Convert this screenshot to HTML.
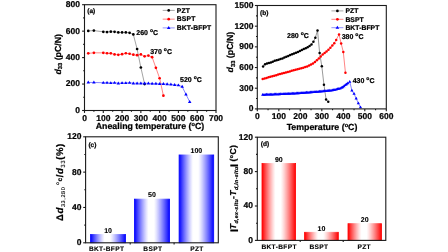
<!DOCTYPE html><html><head><meta charset="utf-8"><style>html,body{margin:0;padding:0;background:#fff;width:448px;height:252px;overflow:hidden}svg{display:block;filter:blur(0.25px)}text{text-rendering:geometricPrecision;stroke:#000;stroke-width:0.22px}</style></head><body>
<svg width="448" height="252" viewBox="0 0 448 252" font-family='"Liberation Sans", Arial, sans-serif'>
<defs><linearGradient id="gb" x1="0" x2="1" y1="0" y2="0"><stop offset="0.000" stop-color="#0000ff"/><stop offset="0.025" stop-color="#1313ff"/><stop offset="0.050" stop-color="#2525ff"/><stop offset="0.075" stop-color="#3838ff"/><stop offset="0.100" stop-color="#4a4aff"/><stop offset="0.125" stop-color="#5c5cff"/><stop offset="0.150" stop-color="#6d6dff"/><stop offset="0.175" stop-color="#7e7eff"/><stop offset="0.200" stop-color="#8f8fff"/><stop offset="0.225" stop-color="#9f9fff"/><stop offset="0.250" stop-color="#afafff"/><stop offset="0.275" stop-color="#bebeff"/><stop offset="0.300" stop-color="#cdcdff"/><stop offset="0.325" stop-color="#dbdbff"/><stop offset="0.350" stop-color="#e8e8ff"/><stop offset="0.375" stop-color="#f4f4ff"/><stop offset="0.400" stop-color="#fefeff"/><stop offset="0.425" stop-color="#ffffff"/><stop offset="0.450" stop-color="#ffffff"/><stop offset="0.475" stop-color="#ffffff"/><stop offset="0.500" stop-color="#ffffff"/><stop offset="0.525" stop-color="#ffffff"/><stop offset="0.550" stop-color="#ffffff"/><stop offset="0.575" stop-color="#f8f8ff"/><stop offset="0.600" stop-color="#eeeeff"/><stop offset="0.625" stop-color="#e3e3ff"/><stop offset="0.650" stop-color="#d7d7ff"/><stop offset="0.675" stop-color="#cacaff"/><stop offset="0.700" stop-color="#bcbcff"/><stop offset="0.725" stop-color="#aeaeff"/><stop offset="0.750" stop-color="#a0a0ff"/><stop offset="0.775" stop-color="#9191ff"/><stop offset="0.800" stop-color="#8282ff"/><stop offset="0.825" stop-color="#7373ff"/><stop offset="0.850" stop-color="#6363ff"/><stop offset="0.875" stop-color="#5353ff"/><stop offset="0.900" stop-color="#4343ff"/><stop offset="0.925" stop-color="#3333ff"/><stop offset="0.950" stop-color="#2222ff"/><stop offset="0.975" stop-color="#1111ff"/><stop offset="1.000" stop-color="#0000ff"/></linearGradient><linearGradient id="gr" x1="0" x2="1" y1="0" y2="0"><stop offset="0.000" stop-color="#ff0000"/><stop offset="0.025" stop-color="#ff1313"/><stop offset="0.050" stop-color="#ff2525"/><stop offset="0.075" stop-color="#ff3838"/><stop offset="0.100" stop-color="#ff4a4a"/><stop offset="0.125" stop-color="#ff5c5c"/><stop offset="0.150" stop-color="#ff6d6d"/><stop offset="0.175" stop-color="#ff7e7e"/><stop offset="0.200" stop-color="#ff8f8f"/><stop offset="0.225" stop-color="#ff9f9f"/><stop offset="0.250" stop-color="#ffafaf"/><stop offset="0.275" stop-color="#ffbebe"/><stop offset="0.300" stop-color="#ffcdcd"/><stop offset="0.325" stop-color="#ffdbdb"/><stop offset="0.350" stop-color="#ffe8e8"/><stop offset="0.375" stop-color="#fff4f4"/><stop offset="0.400" stop-color="#fffefe"/><stop offset="0.425" stop-color="#ffffff"/><stop offset="0.450" stop-color="#ffffff"/><stop offset="0.475" stop-color="#ffffff"/><stop offset="0.500" stop-color="#ffffff"/><stop offset="0.525" stop-color="#ffffff"/><stop offset="0.550" stop-color="#ffffff"/><stop offset="0.575" stop-color="#fff8f8"/><stop offset="0.600" stop-color="#ffeeee"/><stop offset="0.625" stop-color="#ffe3e3"/><stop offset="0.650" stop-color="#ffd7d7"/><stop offset="0.675" stop-color="#ffcaca"/><stop offset="0.700" stop-color="#ffbcbc"/><stop offset="0.725" stop-color="#ffaeae"/><stop offset="0.750" stop-color="#ffa0a0"/><stop offset="0.775" stop-color="#ff9191"/><stop offset="0.800" stop-color="#ff8282"/><stop offset="0.825" stop-color="#ff7373"/><stop offset="0.850" stop-color="#ff6363"/><stop offset="0.875" stop-color="#ff5353"/><stop offset="0.900" stop-color="#ff4343"/><stop offset="0.925" stop-color="#ff3333"/><stop offset="0.950" stop-color="#ff2222"/><stop offset="0.975" stop-color="#ff1111"/><stop offset="1.000" stop-color="#ff0000"/></linearGradient></defs>
<rect width="448" height="252" fill="#fff"/>
<path d="M88.26,30.89 L93.89,30.62 L103.29,31.81 L107.04,32.08 L110.8,31.68 L114.56,31.81 L118.31,32.47 L122.07,32.47 L125.83,32.47 L129.59,32.87 L133.34,34.46 L137.1,49 L140.86,67.52 L144.61,84.05" fill="none" stroke="#666" stroke-width="0.6"/>
<circle cx="88.26" cy="30.89" r="1.35" fill="#000"/>
<circle cx="93.89" cy="30.62" r="1.35" fill="#000"/>
<circle cx="103.29" cy="31.81" r="1.35" fill="#000"/>
<circle cx="107.04" cy="32.08" r="1.35" fill="#000"/>
<circle cx="110.8" cy="31.68" r="1.35" fill="#000"/>
<circle cx="114.56" cy="31.81" r="1.35" fill="#000"/>
<circle cx="118.31" cy="32.47" r="1.35" fill="#000"/>
<circle cx="122.07" cy="32.47" r="1.35" fill="#000"/>
<circle cx="125.83" cy="32.47" r="1.35" fill="#000"/>
<circle cx="129.59" cy="32.87" r="1.35" fill="#000"/>
<circle cx="133.34" cy="34.46" r="1.35" fill="#000"/>
<circle cx="137.1" cy="49" r="1.35" fill="#000"/>
<circle cx="140.86" cy="67.52" r="1.35" fill="#000"/>
<circle cx="144.61" cy="84.05" r="1.35" fill="#000"/>
<path d="M88.26,53.37 L93.89,52.84 L103.29,52.84 L107.04,53.24 L110.8,53.37 L114.56,54.43 L118.31,54.82 L122.07,54.16 L125.83,53.24 L129.59,53.76 L133.34,54.69 L137.1,55.22 L140.86,54.43 L144.61,56.28 L148.37,55.62 L152.13,57.2 L155.89,67.78 L159.64,78.23 L163.4,95.69" fill="none" stroke="#f33" stroke-width="0.6"/>
<circle cx="88.26" cy="53.37" r="1.35" fill="#f00"/>
<circle cx="93.89" cy="52.84" r="1.35" fill="#f00"/>
<circle cx="103.29" cy="52.84" r="1.35" fill="#f00"/>
<circle cx="107.04" cy="53.24" r="1.35" fill="#f00"/>
<circle cx="110.8" cy="53.37" r="1.35" fill="#f00"/>
<circle cx="114.56" cy="54.43" r="1.35" fill="#f00"/>
<circle cx="118.31" cy="54.82" r="1.35" fill="#f00"/>
<circle cx="122.07" cy="54.16" r="1.35" fill="#f00"/>
<circle cx="125.83" cy="53.24" r="1.35" fill="#f00"/>
<circle cx="129.59" cy="53.76" r="1.35" fill="#f00"/>
<circle cx="133.34" cy="54.69" r="1.35" fill="#f00"/>
<circle cx="137.1" cy="55.22" r="1.35" fill="#f00"/>
<circle cx="140.86" cy="54.43" r="1.35" fill="#f00"/>
<circle cx="144.61" cy="56.28" r="1.35" fill="#f00"/>
<circle cx="148.37" cy="55.62" r="1.35" fill="#f00"/>
<circle cx="152.13" cy="57.2" r="1.35" fill="#f00"/>
<circle cx="155.89" cy="67.78" r="1.35" fill="#f00"/>
<circle cx="159.64" cy="78.23" r="1.35" fill="#f00"/>
<circle cx="163.4" cy="95.69" r="1.35" fill="#f00"/>
<path d="M88.26,82.46 L93.89,82.46 L103.29,82.73 L107.04,82.73 L110.8,82.99 L114.56,82.73 L118.31,83.26 L122.07,82.99 L125.83,82.99 L129.59,82.73 L133.34,83.26 L137.1,83.26 L140.86,83.26 L144.61,83.26 L148.37,83.39 L152.13,83.52 L155.89,83.65 L159.64,83.79 L163.4,83.92 L167.16,84.18 L170.91,84.45 L174.67,84.84 L178.43,85.24 L182.19,86.69 L185.94,94.37 L189.7,101.77" fill="none" stroke="#33f" stroke-width="0.6"/>
<path d="M88.26,80.62 L90.01,83.59 L86.5,83.59Z" fill="#00f"/>
<path d="M93.89,80.62 L95.65,83.59 L92.14,83.59Z" fill="#00f"/>
<path d="M103.29,80.89 L105.04,83.86 L101.53,83.86Z" fill="#00f"/>
<path d="M107.04,80.89 L108.8,83.86 L105.29,83.86Z" fill="#00f"/>
<path d="M110.8,81.15 L112.55,84.12 L109.05,84.12Z" fill="#00f"/>
<path d="M114.56,80.89 L116.31,83.86 L112.8,83.86Z" fill="#00f"/>
<path d="M118.31,81.42 L120.07,84.39 L116.56,84.39Z" fill="#00f"/>
<path d="M122.07,81.15 L123.83,84.12 L120.32,84.12Z" fill="#00f"/>
<path d="M125.83,81.15 L127.58,84.12 L124.07,84.12Z" fill="#00f"/>
<path d="M129.59,80.89 L131.34,83.86 L127.83,83.86Z" fill="#00f"/>
<path d="M133.34,81.42 L135.1,84.39 L131.59,84.39Z" fill="#00f"/>
<path d="M137.1,81.42 L138.85,84.39 L135.34,84.39Z" fill="#00f"/>
<path d="M140.86,81.42 L142.61,84.39 L139.1,84.39Z" fill="#00f"/>
<path d="M144.61,81.42 L146.37,84.39 L142.86,84.39Z" fill="#00f"/>
<path d="M148.37,81.55 L150.13,84.52 L146.62,84.52Z" fill="#00f"/>
<path d="M152.13,81.68 L153.88,84.65 L150.37,84.65Z" fill="#00f"/>
<path d="M155.89,81.81 L157.64,84.78 L154.13,84.78Z" fill="#00f"/>
<path d="M159.64,81.94 L161.4,84.91 L157.89,84.91Z" fill="#00f"/>
<path d="M163.4,82.08 L165.16,85.05 L161.65,85.05Z" fill="#00f"/>
<path d="M167.16,82.34 L168.91,85.31 L165.4,85.31Z" fill="#00f"/>
<path d="M170.91,82.61 L172.67,85.58 L169.16,85.58Z" fill="#00f"/>
<path d="M174.67,83 L176.43,85.97 L172.92,85.97Z" fill="#00f"/>
<path d="M178.43,83.4 L180.18,86.37 L176.67,86.37Z" fill="#00f"/>
<path d="M182.19,84.85 L183.94,87.82 L180.43,87.82Z" fill="#00f"/>
<path d="M185.94,92.52 L187.7,95.49 L184.19,95.49Z" fill="#00f"/>
<path d="M189.7,99.93 L191.45,102.9 L187.94,102.9Z" fill="#00f"/>
<rect x="84.5" y="4.7" width="131.5" height="105.8" fill="none" stroke="#1a1a1a" stroke-width="1.1"/>
<line x1="82.1" y1="110.5" x2="84.5" y2="110.5" stroke="#1a1a1a" stroke-width="1.1"/>
<text x="80" y="112.9" font-size="8.5" text-anchor="end" font-weight="bold" >0</text>
<line x1="83.2" y1="97.28" x2="84.5" y2="97.28" stroke="#1a1a1a" stroke-width="1.1"/>
<line x1="82.1" y1="84.05" x2="84.5" y2="84.05" stroke="#1a1a1a" stroke-width="1.1"/>
<text x="80" y="86.45" font-size="8.5" text-anchor="end" font-weight="bold" >200</text>
<line x1="83.2" y1="70.82" x2="84.5" y2="70.82" stroke="#1a1a1a" stroke-width="1.1"/>
<line x1="82.1" y1="57.6" x2="84.5" y2="57.6" stroke="#1a1a1a" stroke-width="1.1"/>
<text x="80" y="60" font-size="8.5" text-anchor="end" font-weight="bold" >400</text>
<line x1="83.2" y1="44.38" x2="84.5" y2="44.38" stroke="#1a1a1a" stroke-width="1.1"/>
<line x1="82.1" y1="31.15" x2="84.5" y2="31.15" stroke="#1a1a1a" stroke-width="1.1"/>
<text x="80" y="33.55" font-size="8.5" text-anchor="end" font-weight="bold" >600</text>
<line x1="83.2" y1="17.92" x2="84.5" y2="17.92" stroke="#1a1a1a" stroke-width="1.1"/>
<line x1="82.1" y1="4.7" x2="84.5" y2="4.7" stroke="#1a1a1a" stroke-width="1.1"/>
<text x="80" y="7.1" font-size="8.5" text-anchor="end" font-weight="bold" >800</text>
<line x1="84.5" y1="110.5" x2="84.5" y2="112.9" stroke="#1a1a1a" stroke-width="1.1"/>
<text x="84.5" y="120.6" font-size="8.5" text-anchor="middle" font-weight="bold" >0</text>
<line x1="93.89" y1="110.5" x2="93.89" y2="111.8" stroke="#1a1a1a" stroke-width="1.1"/>
<line x1="103.29" y1="110.5" x2="103.29" y2="112.9" stroke="#1a1a1a" stroke-width="1.1"/>
<text x="103.29" y="120.6" font-size="8.5" text-anchor="middle" font-weight="bold" >100</text>
<line x1="112.68" y1="110.5" x2="112.68" y2="111.8" stroke="#1a1a1a" stroke-width="1.1"/>
<line x1="122.07" y1="110.5" x2="122.07" y2="112.9" stroke="#1a1a1a" stroke-width="1.1"/>
<text x="122.07" y="120.6" font-size="8.5" text-anchor="middle" font-weight="bold" >200</text>
<line x1="131.46" y1="110.5" x2="131.46" y2="111.8" stroke="#1a1a1a" stroke-width="1.1"/>
<line x1="140.86" y1="110.5" x2="140.86" y2="112.9" stroke="#1a1a1a" stroke-width="1.1"/>
<text x="140.86" y="120.6" font-size="8.5" text-anchor="middle" font-weight="bold" >300</text>
<line x1="150.25" y1="110.5" x2="150.25" y2="111.8" stroke="#1a1a1a" stroke-width="1.1"/>
<line x1="159.64" y1="110.5" x2="159.64" y2="112.9" stroke="#1a1a1a" stroke-width="1.1"/>
<text x="159.64" y="120.6" font-size="8.5" text-anchor="middle" font-weight="bold" >400</text>
<line x1="169.04" y1="110.5" x2="169.04" y2="111.8" stroke="#1a1a1a" stroke-width="1.1"/>
<line x1="178.43" y1="110.5" x2="178.43" y2="112.9" stroke="#1a1a1a" stroke-width="1.1"/>
<text x="178.43" y="120.6" font-size="8.5" text-anchor="middle" font-weight="bold" >500</text>
<line x1="187.82" y1="110.5" x2="187.82" y2="111.8" stroke="#1a1a1a" stroke-width="1.1"/>
<line x1="197.21" y1="110.5" x2="197.21" y2="112.9" stroke="#1a1a1a" stroke-width="1.1"/>
<text x="197.21" y="120.6" font-size="8.5" text-anchor="middle" font-weight="bold" >600</text>
<line x1="206.61" y1="110.5" x2="206.61" y2="111.8" stroke="#1a1a1a" stroke-width="1.1"/>
<line x1="216" y1="110.5" x2="216" y2="112.9" stroke="#1a1a1a" stroke-width="1.1"/>
<text x="216" y="120.6" font-size="8.5" text-anchor="middle" font-weight="bold" >700</text>
<text x="150" y="128.8" font-size="8.8" text-anchor="middle" font-weight="bold" >Anealing temperature (<tspan font-size="5.6" dy="-3.17">o</tspan><tspan dy="3.17">C)</tspan></text>
<text x="87.2" y="12.6" font-size="6.6" text-anchor="start" font-weight="bold" >(a)</text>
<line x1="162.7" y1="10.4" x2="174.7" y2="10.4" stroke="#6a6a6a" stroke-width="0.6"/>
<circle cx="168.7" cy="10.4" r="1.35" fill="#000"/>
<text x="176.8" y="12.6" font-size="6.8" text-anchor="start" font-weight="bold" letter-spacing="0.12">PZT</text>
<line x1="162.7" y1="19.15" x2="174.7" y2="19.15" stroke="#ff3030" stroke-width="0.6"/>
<circle cx="168.7" cy="19.15" r="1.35" fill="#f00"/>
<text x="176.8" y="21.35" font-size="6.8" text-anchor="start" font-weight="bold" letter-spacing="0.12">BSPT</text>
<line x1="162.7" y1="27.9" x2="174.7" y2="27.9" stroke="#4848ff" stroke-width="0.6"/>
<path d="M168.7,26 L170.5,29 L166.9,29Z" fill="#00f"/>
<text x="176.8" y="30.1" font-size="6.8" text-anchor="start" font-weight="bold" letter-spacing="0.12">BKT-BFPT</text>
<text x="136.3" y="34.5" font-size="7.0" text-anchor="start" font-weight="bold" >260 <tspan font-size="5" dy="-2.52">o</tspan><tspan dy="2.52">C</tspan></text>
<text x="150.2" y="53.6" font-size="7.0" text-anchor="start" font-weight="bold" >370 <tspan font-size="5" dy="-2.52">o</tspan><tspan dy="2.52">C</tspan></text>
<text x="180" y="81.8" font-size="7.0" text-anchor="start" font-weight="bold" >520 <tspan font-size="5" dy="-2.52">o</tspan><tspan dy="2.52">C</tspan></text>
<text transform="translate(60.6,74.6) rotate(-90)" font-size="8.8" font-weight="bold" ><tspan font-style="italic">d</tspan><tspan font-size="5.8" dy="1.8">33</tspan><tspan dy="-1.8"> (pC/N)</tspan></text>
<path d="M263.11,66.57 L265.04,64.37 L266.98,63.46 L268.91,63.06 L270.85,62.46 L272.78,61.63 L274.72,60.85 L276.65,60.23 L278.59,59.67 L280.52,59.08 L282.46,58.38 L284.39,57.6 L286.32,56.77 L288.26,55.93 L290.19,55.11 L292.13,54.34 L294.06,53.57 L296,52.78 L297.94,51.91 L299.87,50.98 L301.81,50.02 L303.74,49.04 L305.68,48.14 L307.61,47.29 L309.55,46.1 L311.48,44.39 L313.42,41.87 L315.35,37.67 L317.5,30.52 L319.65,52.93 L321.8,66.3 L323.95,84.64 L326.1,99.59 L328.25,101.87" fill="none" stroke="#555" stroke-width="0.6"/>
<circle cx="263.11" cy="66.57" r="1.25" fill="#000"/>
<circle cx="265.04" cy="64.37" r="1.25" fill="#000"/>
<circle cx="266.98" cy="63.46" r="1.25" fill="#000"/>
<circle cx="268.91" cy="63.06" r="1.25" fill="#000"/>
<circle cx="270.85" cy="62.46" r="1.25" fill="#000"/>
<circle cx="272.78" cy="61.63" r="1.25" fill="#000"/>
<circle cx="274.72" cy="60.85" r="1.25" fill="#000"/>
<circle cx="276.65" cy="60.23" r="1.25" fill="#000"/>
<circle cx="278.59" cy="59.67" r="1.25" fill="#000"/>
<circle cx="280.52" cy="59.08" r="1.25" fill="#000"/>
<circle cx="282.46" cy="58.38" r="1.25" fill="#000"/>
<circle cx="284.39" cy="57.6" r="1.25" fill="#000"/>
<circle cx="286.32" cy="56.77" r="1.25" fill="#000"/>
<circle cx="288.26" cy="55.93" r="1.25" fill="#000"/>
<circle cx="290.19" cy="55.11" r="1.25" fill="#000"/>
<circle cx="292.13" cy="54.34" r="1.25" fill="#000"/>
<circle cx="294.06" cy="53.57" r="1.25" fill="#000"/>
<circle cx="296" cy="52.78" r="1.25" fill="#000"/>
<circle cx="297.94" cy="51.91" r="1.25" fill="#000"/>
<circle cx="299.87" cy="50.98" r="1.25" fill="#000"/>
<circle cx="301.81" cy="50.02" r="1.25" fill="#000"/>
<circle cx="303.74" cy="49.04" r="1.25" fill="#000"/>
<circle cx="305.68" cy="48.14" r="1.25" fill="#000"/>
<circle cx="307.61" cy="47.29" r="1.25" fill="#000"/>
<circle cx="309.55" cy="46.1" r="1.25" fill="#000"/>
<circle cx="311.48" cy="44.39" r="1.25" fill="#000"/>
<circle cx="313.42" cy="41.87" r="1.25" fill="#000"/>
<circle cx="315.35" cy="37.67" r="1.25" fill="#000"/>
<circle cx="317.5" cy="30.52" r="1.25" fill="#000"/>
<circle cx="319.65" cy="52.93" r="1.25" fill="#000"/>
<circle cx="321.8" cy="66.3" r="1.25" fill="#000"/>
<circle cx="323.95" cy="84.64" r="1.25" fill="#000"/>
<circle cx="326.1" cy="99.59" r="1.25" fill="#000"/>
<circle cx="328.25" cy="101.87" r="1.25" fill="#000"/>
<path d="M262.68,78.98 L264.61,78.43 L266.55,77.88 L268.48,77.33 L270.42,76.78 L272.35,76.23 L274.29,75.68 L276.22,75.13 L278.16,74.59 L280.09,74.05 L282.03,73.52 L283.96,72.98 L285.89,72.45 L287.83,71.92 L289.76,71.39 L291.7,70.86 L293.63,70.34 L295.57,69.81 L297.5,69.28 L299.44,68.74 L301.38,68.18 L303.31,67.65 L305.25,67.09 L307.18,66.42 L309.12,65.59 L311.05,64.6 L312.99,63.41 L314.92,61.97 L316.86,60.31 L318.79,58.51 L320.73,56.44 L322.66,54.57 L324.6,53.11 L326.53,51.47 L328.47,49.66 L330.4,47.7 L332.34,45.58 L334.27,43.16 L336.21,39.9 L339,34.45 L341.15,43.41 L343.3,52.03 L345.45,72.71" fill="none" stroke="#f33" stroke-width="0.6"/>
<circle cx="262.68" cy="78.98" r="1.25" fill="#f00"/>
<circle cx="264.61" cy="78.43" r="1.25" fill="#f00"/>
<circle cx="266.55" cy="77.88" r="1.25" fill="#f00"/>
<circle cx="268.48" cy="77.33" r="1.25" fill="#f00"/>
<circle cx="270.42" cy="76.78" r="1.25" fill="#f00"/>
<circle cx="272.35" cy="76.23" r="1.25" fill="#f00"/>
<circle cx="274.29" cy="75.68" r="1.25" fill="#f00"/>
<circle cx="276.22" cy="75.13" r="1.25" fill="#f00"/>
<circle cx="278.16" cy="74.59" r="1.25" fill="#f00"/>
<circle cx="280.09" cy="74.05" r="1.25" fill="#f00"/>
<circle cx="282.03" cy="73.52" r="1.25" fill="#f00"/>
<circle cx="283.96" cy="72.98" r="1.25" fill="#f00"/>
<circle cx="285.89" cy="72.45" r="1.25" fill="#f00"/>
<circle cx="287.83" cy="71.92" r="1.25" fill="#f00"/>
<circle cx="289.76" cy="71.39" r="1.25" fill="#f00"/>
<circle cx="291.7" cy="70.86" r="1.25" fill="#f00"/>
<circle cx="293.63" cy="70.34" r="1.25" fill="#f00"/>
<circle cx="295.57" cy="69.81" r="1.25" fill="#f00"/>
<circle cx="297.5" cy="69.28" r="1.25" fill="#f00"/>
<circle cx="299.44" cy="68.74" r="1.25" fill="#f00"/>
<circle cx="301.38" cy="68.18" r="1.25" fill="#f00"/>
<circle cx="303.31" cy="67.65" r="1.25" fill="#f00"/>
<circle cx="305.25" cy="67.09" r="1.25" fill="#f00"/>
<circle cx="307.18" cy="66.42" r="1.25" fill="#f00"/>
<circle cx="309.12" cy="65.59" r="1.25" fill="#f00"/>
<circle cx="311.05" cy="64.6" r="1.25" fill="#f00"/>
<circle cx="312.99" cy="63.41" r="1.25" fill="#f00"/>
<circle cx="314.92" cy="61.97" r="1.25" fill="#f00"/>
<circle cx="316.86" cy="60.31" r="1.25" fill="#f00"/>
<circle cx="318.79" cy="58.51" r="1.25" fill="#f00"/>
<circle cx="320.73" cy="56.44" r="1.25" fill="#f00"/>
<circle cx="322.66" cy="54.57" r="1.25" fill="#f00"/>
<circle cx="324.6" cy="53.11" r="1.25" fill="#f00"/>
<circle cx="326.53" cy="51.47" r="1.25" fill="#f00"/>
<circle cx="328.47" cy="49.66" r="1.25" fill="#f00"/>
<circle cx="330.4" cy="47.7" r="1.25" fill="#f00"/>
<circle cx="332.34" cy="45.58" r="1.25" fill="#f00"/>
<circle cx="334.27" cy="43.16" r="1.25" fill="#f00"/>
<circle cx="336.21" cy="39.9" r="1.25" fill="#f00"/>
<circle cx="339" cy="34.45" r="1.25" fill="#f00"/>
<circle cx="341.15" cy="43.41" r="1.25" fill="#f00"/>
<circle cx="343.3" cy="52.03" r="1.25" fill="#f00"/>
<circle cx="345.45" cy="72.71" r="1.25" fill="#f00"/>
<path d="M262.68,94.7 L263.97,94.66 L265.25,94.61 L266.55,94.57 L267.84,94.53 L269.12,94.49 L270.42,94.45 L271.7,94.41 L273,94.37 L274.29,94.32 L275.57,94.27 L276.87,94.23 L278.16,94.17 L279.44,94.12 L280.74,94.07 L282.03,94.01 L283.31,93.95 L284.61,93.89 L285.89,93.83 L287.19,93.76 L288.48,93.7 L289.76,93.63 L291.06,93.56 L292.35,93.49 L293.63,93.42 L294.93,93.34 L296.22,93.26 L297.5,93.18 L298.8,93.1 L300.09,93.01 L301.38,92.93 L302.67,92.84 L303.96,92.75 L305.25,92.65 L306.54,92.56 L307.82,92.46 L309.12,92.36 L310.41,92.26 L311.69,92.16 L312.99,92.05 L314.28,91.94 L315.56,91.84 L316.86,91.73 L318.14,91.61 L319.44,91.5 L320.73,91.39 L322.01,91.28 L323.31,91.18 L324.6,91.07 L325.88,90.95 L327.18,90.82 L328.47,90.68 L329.75,90.52 L331.05,90.34 L332.34,90.15 L333.62,89.93 L334.92,89.67 L336.21,89.36 L337.5,89.03 L338.79,88.69 L340.08,88.33 L341.37,87.82 L342.66,87.13 L343.94,86.16 L345.24,85.07 L346.52,84.2 L347.81,83.24 L349.75,81.67 L351.9,90.56 L354.05,93.8 L356.2,98.56 L358.35,103.32 L360.5,107.31" fill="none" stroke="#33f" stroke-width="0.6"/>
<path d="M262.68,92.99 L264.3,95.74 L261.05,95.74Z" fill="#00f"/>
<path d="M263.97,92.95 L265.59,95.7 L262.34,95.7Z" fill="#00f"/>
<path d="M265.25,92.91 L266.88,95.66 L263.63,95.66Z" fill="#00f"/>
<path d="M266.55,92.87 L268.17,95.62 L264.92,95.62Z" fill="#00f"/>
<path d="M267.84,92.83 L269.46,95.58 L266.21,95.58Z" fill="#00f"/>
<path d="M269.12,92.79 L270.75,95.54 L267.5,95.54Z" fill="#00f"/>
<path d="M270.42,92.74 L272.04,95.49 L268.79,95.49Z" fill="#00f"/>
<path d="M271.7,92.7 L273.33,95.45 L270.08,95.45Z" fill="#00f"/>
<path d="M273,92.66 L274.62,95.41 L271.37,95.41Z" fill="#00f"/>
<path d="M274.29,92.62 L275.91,95.37 L272.66,95.37Z" fill="#00f"/>
<path d="M275.57,92.57 L277.2,95.32 L273.95,95.32Z" fill="#00f"/>
<path d="M276.87,92.52 L278.49,95.27 L275.24,95.27Z" fill="#00f"/>
<path d="M278.16,92.47 L279.78,95.22 L276.53,95.22Z" fill="#00f"/>
<path d="M279.44,92.42 L281.07,95.17 L277.82,95.17Z" fill="#00f"/>
<path d="M280.74,92.36 L282.36,95.11 L279.11,95.11Z" fill="#00f"/>
<path d="M282.03,92.3 L283.65,95.05 L280.4,95.05Z" fill="#00f"/>
<path d="M283.31,92.24 L284.94,94.99 L281.69,94.99Z" fill="#00f"/>
<path d="M284.61,92.18 L286.23,94.93 L282.98,94.93Z" fill="#00f"/>
<path d="M285.89,92.12 L287.52,94.87 L284.27,94.87Z" fill="#00f"/>
<path d="M287.19,92.06 L288.81,94.81 L285.56,94.81Z" fill="#00f"/>
<path d="M288.48,91.99 L290.1,94.74 L286.85,94.74Z" fill="#00f"/>
<path d="M289.76,91.92 L291.39,94.67 L288.14,94.67Z" fill="#00f"/>
<path d="M291.06,91.86 L292.68,94.61 L289.43,94.61Z" fill="#00f"/>
<path d="M292.35,91.78 L293.97,94.53 L290.72,94.53Z" fill="#00f"/>
<path d="M293.63,91.71 L295.26,94.46 L292.01,94.46Z" fill="#00f"/>
<path d="M294.93,91.63 L296.55,94.38 L293.3,94.38Z" fill="#00f"/>
<path d="M296.22,91.56 L297.84,94.31 L294.59,94.31Z" fill="#00f"/>
<path d="M297.5,91.48 L299.13,94.23 L295.88,94.23Z" fill="#00f"/>
<path d="M298.8,91.39 L300.42,94.14 L297.17,94.14Z" fill="#00f"/>
<path d="M300.09,91.31 L301.71,94.06 L298.46,94.06Z" fill="#00f"/>
<path d="M301.38,91.22 L303,93.97 L299.75,93.97Z" fill="#00f"/>
<path d="M302.67,91.13 L304.29,93.88 L301.04,93.88Z" fill="#00f"/>
<path d="M303.96,91.04 L305.58,93.79 L302.33,93.79Z" fill="#00f"/>
<path d="M305.25,90.95 L306.87,93.7 L303.62,93.7Z" fill="#00f"/>
<path d="M306.54,90.85 L308.16,93.6 L304.91,93.6Z" fill="#00f"/>
<path d="M307.82,90.76 L309.45,93.51 L306.2,93.51Z" fill="#00f"/>
<path d="M309.12,90.66 L310.74,93.41 L307.49,93.41Z" fill="#00f"/>
<path d="M310.41,90.56 L312.03,93.31 L308.78,93.31Z" fill="#00f"/>
<path d="M311.69,90.45 L313.32,93.2 L310.07,93.2Z" fill="#00f"/>
<path d="M312.99,90.35 L314.61,93.1 L311.36,93.1Z" fill="#00f"/>
<path d="M314.28,90.24 L315.9,92.99 L312.65,92.99Z" fill="#00f"/>
<path d="M315.56,90.13 L317.19,92.88 L313.94,92.88Z" fill="#00f"/>
<path d="M316.86,90.02 L318.48,92.77 L315.23,92.77Z" fill="#00f"/>
<path d="M318.14,89.91 L319.77,92.66 L316.52,92.66Z" fill="#00f"/>
<path d="M319.44,89.8 L321.06,92.55 L317.81,92.55Z" fill="#00f"/>
<path d="M320.73,89.69 L322.35,92.44 L319.1,92.44Z" fill="#00f"/>
<path d="M322.01,89.58 L323.64,92.33 L320.39,92.33Z" fill="#00f"/>
<path d="M323.31,89.47 L324.93,92.22 L321.68,92.22Z" fill="#00f"/>
<path d="M324.6,89.36 L326.22,92.11 L322.97,92.11Z" fill="#00f"/>
<path d="M325.88,89.25 L327.51,92 L324.26,92Z" fill="#00f"/>
<path d="M327.18,89.12 L328.8,91.87 L325.55,91.87Z" fill="#00f"/>
<path d="M328.47,88.97 L330.09,91.72 L326.84,91.72Z" fill="#00f"/>
<path d="M329.75,88.81 L331.38,91.56 L328.13,91.56Z" fill="#00f"/>
<path d="M331.05,88.64 L332.67,91.39 L329.42,91.39Z" fill="#00f"/>
<path d="M332.34,88.44 L333.96,91.19 L330.71,91.19Z" fill="#00f"/>
<path d="M333.62,88.22 L335.25,90.97 L332,90.97Z" fill="#00f"/>
<path d="M334.92,87.97 L336.54,90.72 L333.29,90.72Z" fill="#00f"/>
<path d="M336.21,87.66 L337.83,90.41 L334.58,90.41Z" fill="#00f"/>
<path d="M337.5,87.32 L339.12,90.07 L335.87,90.07Z" fill="#00f"/>
<path d="M338.79,86.98 L340.41,89.73 L337.16,89.73Z" fill="#00f"/>
<path d="M340.08,86.63 L341.7,89.38 L338.45,89.38Z" fill="#00f"/>
<path d="M341.37,86.12 L342.99,88.87 L339.74,88.87Z" fill="#00f"/>
<path d="M342.66,85.43 L344.28,88.18 L341.03,88.18Z" fill="#00f"/>
<path d="M343.94,84.46 L345.57,87.21 L342.32,87.21Z" fill="#00f"/>
<path d="M345.24,83.37 L346.86,86.12 L343.61,86.12Z" fill="#00f"/>
<path d="M346.52,82.49 L348.15,85.24 L344.9,85.24Z" fill="#00f"/>
<path d="M347.81,81.54 L349.44,84.29 L346.19,84.29Z" fill="#00f"/>
<path d="M349.75,79.97 L351.38,82.72 L348.12,82.72Z" fill="#00f"/>
<path d="M351.9,88.86 L353.52,91.61 L350.27,91.61Z" fill="#00f"/>
<path d="M354.05,92.1 L355.68,94.85 L352.43,94.85Z" fill="#00f"/>
<path d="M356.2,96.86 L357.82,99.61 L354.57,99.61Z" fill="#00f"/>
<path d="M358.35,101.61 L359.98,104.36 L356.73,104.36Z" fill="#00f"/>
<path d="M360.5,105.61 L362.12,108.36 L358.88,108.36Z" fill="#00f"/>
<rect x="257.3" y="5.5" width="129" height="103.4" fill="none" stroke="#1a1a1a" stroke-width="1.1"/>
<line x1="254.9" y1="108.9" x2="257.3" y2="108.9" stroke="#1a1a1a" stroke-width="1.1"/>
<text x="253.4" y="111.3" font-size="8.5" text-anchor="end" font-weight="bold" >0</text>
<line x1="256" y1="98.56" x2="257.3" y2="98.56" stroke="#1a1a1a" stroke-width="1.1"/>
<line x1="254.9" y1="88.22" x2="257.3" y2="88.22" stroke="#1a1a1a" stroke-width="1.1"/>
<text x="253.4" y="90.62" font-size="8.5" text-anchor="end" font-weight="bold" >300</text>
<line x1="256" y1="77.88" x2="257.3" y2="77.88" stroke="#1a1a1a" stroke-width="1.1"/>
<line x1="254.9" y1="67.54" x2="257.3" y2="67.54" stroke="#1a1a1a" stroke-width="1.1"/>
<text x="253.4" y="69.94" font-size="8.5" text-anchor="end" font-weight="bold" >600</text>
<line x1="256" y1="57.2" x2="257.3" y2="57.2" stroke="#1a1a1a" stroke-width="1.1"/>
<line x1="254.9" y1="46.86" x2="257.3" y2="46.86" stroke="#1a1a1a" stroke-width="1.1"/>
<text x="253.4" y="49.26" font-size="8.5" text-anchor="end" font-weight="bold" >900</text>
<line x1="256" y1="36.52" x2="257.3" y2="36.52" stroke="#1a1a1a" stroke-width="1.1"/>
<line x1="254.9" y1="26.18" x2="257.3" y2="26.18" stroke="#1a1a1a" stroke-width="1.1"/>
<text x="253.4" y="28.58" font-size="8.5" text-anchor="end" font-weight="bold" >1200</text>
<line x1="256" y1="15.84" x2="257.3" y2="15.84" stroke="#1a1a1a" stroke-width="1.1"/>
<line x1="254.9" y1="5.5" x2="257.3" y2="5.5" stroke="#1a1a1a" stroke-width="1.1"/>
<text x="253.4" y="7.9" font-size="8.5" text-anchor="end" font-weight="bold" >1500</text>
<line x1="257.3" y1="108.9" x2="257.3" y2="111.3" stroke="#1a1a1a" stroke-width="1.1"/>
<text x="257.3" y="118.7" font-size="8.5" text-anchor="middle" font-weight="bold" >0</text>
<line x1="268.05" y1="108.9" x2="268.05" y2="110.2" stroke="#1a1a1a" stroke-width="1.1"/>
<line x1="278.8" y1="108.9" x2="278.8" y2="111.3" stroke="#1a1a1a" stroke-width="1.1"/>
<text x="278.8" y="118.7" font-size="8.5" text-anchor="middle" font-weight="bold" >100</text>
<line x1="289.55" y1="108.9" x2="289.55" y2="110.2" stroke="#1a1a1a" stroke-width="1.1"/>
<line x1="300.3" y1="108.9" x2="300.3" y2="111.3" stroke="#1a1a1a" stroke-width="1.1"/>
<text x="300.3" y="118.7" font-size="8.5" text-anchor="middle" font-weight="bold" >200</text>
<line x1="311.05" y1="108.9" x2="311.05" y2="110.2" stroke="#1a1a1a" stroke-width="1.1"/>
<line x1="321.8" y1="108.9" x2="321.8" y2="111.3" stroke="#1a1a1a" stroke-width="1.1"/>
<text x="321.8" y="118.7" font-size="8.5" text-anchor="middle" font-weight="bold" >300</text>
<line x1="332.55" y1="108.9" x2="332.55" y2="110.2" stroke="#1a1a1a" stroke-width="1.1"/>
<line x1="343.3" y1="108.9" x2="343.3" y2="111.3" stroke="#1a1a1a" stroke-width="1.1"/>
<text x="343.3" y="118.7" font-size="8.5" text-anchor="middle" font-weight="bold" >400</text>
<line x1="354.05" y1="108.9" x2="354.05" y2="110.2" stroke="#1a1a1a" stroke-width="1.1"/>
<line x1="364.8" y1="108.9" x2="364.8" y2="111.3" stroke="#1a1a1a" stroke-width="1.1"/>
<text x="364.8" y="118.7" font-size="8.5" text-anchor="middle" font-weight="bold" >500</text>
<line x1="375.55" y1="108.9" x2="375.55" y2="110.2" stroke="#1a1a1a" stroke-width="1.1"/>
<line x1="386.3" y1="108.9" x2="386.3" y2="111.3" stroke="#1a1a1a" stroke-width="1.1"/>
<text x="386.3" y="118.7" font-size="8.5" text-anchor="middle" font-weight="bold" >600</text>
<text x="322" y="130" font-size="8.8" text-anchor="middle" font-weight="bold" >Temperature (<tspan font-size="5.6" dy="-3.17">o</tspan><tspan dy="3.17">C)</tspan></text>
<text x="260" y="14.8" font-size="6.6" text-anchor="start" font-weight="bold" >(b)</text>
<line x1="331.4" y1="10.9" x2="343.4" y2="10.9" stroke="#6a6a6a" stroke-width="0.6"/>
<circle cx="337.4" cy="10.9" r="1.35" fill="#000"/>
<text x="345.4" y="13.3" font-size="6.8" text-anchor="start" font-weight="bold" letter-spacing="0.05">PZT</text>
<line x1="331.4" y1="19.3" x2="343.4" y2="19.3" stroke="#ff3030" stroke-width="0.6"/>
<circle cx="337.4" cy="19.3" r="1.35" fill="#f00"/>
<text x="345.4" y="21.7" font-size="6.8" text-anchor="start" font-weight="bold" letter-spacing="0.05">BSPT</text>
<line x1="331.4" y1="27.7" x2="343.4" y2="27.7" stroke="#4848ff" stroke-width="0.6"/>
<path d="M337.4,25.8 L339.2,28.8 L335.6,28.8Z" fill="#00f"/>
<text x="345.4" y="30.1" font-size="6.8" text-anchor="start" font-weight="bold" letter-spacing="0.05">BKT-BFPT</text>
<text x="287" y="37.6" font-size="7.0" text-anchor="start" font-weight="bold" >280 <tspan font-size="5" dy="-2.52">o</tspan><tspan dy="2.52">C</tspan></text>
<text x="341.7" y="38.7" font-size="7.0" text-anchor="start" font-weight="bold" >380 <tspan font-size="5" dy="-2.52">o</tspan><tspan dy="2.52">C</tspan></text>
<text x="352.7" y="82.7" font-size="7.0" text-anchor="start" font-weight="bold" >430 <tspan font-size="5" dy="-2.52">o</tspan><tspan dy="2.52">C</tspan></text>
<text transform="translate(233,72.4) rotate(-90)" font-size="8.8" font-weight="bold" ><tspan font-style="italic">d</tspan><tspan font-size="5.8" dy="1.8">33</tspan><tspan dy="-1.8"> (pC/N)</tspan></text>
<rect x="90.6" y="234.47" width="34.9" height="8.33" fill="url(#gb)" stroke="url(#gb)" stroke-width="0.8"/>
<text x="108.05" y="232.67" font-size="7.0" text-anchor="middle" font-weight="bold" style="stroke-width:0.12px">10</text>
<text x="106.6" y="251.2" font-size="6.6" text-anchor="middle" font-weight="bold" letter-spacing="0.35" style="stroke-width:0.1px">BKT-BFPT</text>
<rect x="134.4" y="199.13" width="35.2" height="43.67" fill="url(#gb)" stroke="url(#gb)" stroke-width="0.8"/>
<text x="152" y="197.33" font-size="7.0" text-anchor="middle" font-weight="bold" style="stroke-width:0.12px">50</text>
<text x="152.8" y="251.2" font-size="6.6" text-anchor="middle" font-weight="bold" letter-spacing="0.35" style="stroke-width:0.1px">BSPT</text>
<rect x="179.1" y="154.97" width="34.6" height="87.83" fill="url(#gb)" stroke="url(#gb)" stroke-width="0.8"/>
<text x="196.4" y="153.17" font-size="7.0" text-anchor="middle" font-weight="bold" style="stroke-width:0.12px">100</text>
<text x="196.9" y="251.2" font-size="6.6" text-anchor="middle" font-weight="bold" letter-spacing="0.35" style="stroke-width:0.1px">PZT</text>
<rect x="85.6" y="136.8" width="132.7" height="106" fill="none" stroke="#1a1a1a" stroke-width="1.1"/>
<line x1="83.2" y1="242.8" x2="85.6" y2="242.8" stroke="#1a1a1a" stroke-width="1.1"/>
<text x="81.4" y="245.2" font-size="8.5" text-anchor="end" font-weight="bold" >0</text>
<line x1="84.3" y1="225.13" x2="85.6" y2="225.13" stroke="#1a1a1a" stroke-width="1.1"/>
<line x1="83.2" y1="207.47" x2="85.6" y2="207.47" stroke="#1a1a1a" stroke-width="1.1"/>
<text x="81.4" y="209.87" font-size="8.5" text-anchor="end" font-weight="bold" >40</text>
<line x1="84.3" y1="189.8" x2="85.6" y2="189.8" stroke="#1a1a1a" stroke-width="1.1"/>
<line x1="83.2" y1="172.13" x2="85.6" y2="172.13" stroke="#1a1a1a" stroke-width="1.1"/>
<text x="81.4" y="174.53" font-size="8.5" text-anchor="end" font-weight="bold" >80</text>
<line x1="84.3" y1="154.47" x2="85.6" y2="154.47" stroke="#1a1a1a" stroke-width="1.1"/>
<line x1="83.2" y1="136.8" x2="85.6" y2="136.8" stroke="#1a1a1a" stroke-width="1.1"/>
<text x="81.4" y="139.2" font-size="8.5" text-anchor="end" font-weight="bold" >120</text>
<line x1="130.2" y1="242.8" x2="130.2" y2="244.4" stroke="#1a1a1a" stroke-width="1.1"/>
<line x1="174.1" y1="242.8" x2="174.1" y2="244.4" stroke="#1a1a1a" stroke-width="1.1"/>
<text x="88.4" y="146.8" font-size="6.6" text-anchor="start" font-weight="bold" >(c)</text>
<text transform="translate(63.4,221) rotate(-90)" font-size="9.6" font-weight="bold" letter-spacing="0.57">&#916;<tspan font-style="italic">d</tspan><tspan font-size="5.6" dy="1.6" font-weight="normal" style="stroke-width:0.1px">33,280</tspan><tspan font-size="4.6" dy="-5.8" font-weight="normal"> o</tspan><tspan font-size="6.6" dy="2.6">c</tspan><tspan dy="1.6">/</tspan><tspan font-style="italic">d</tspan><tspan font-size="6" dy="1.6" font-weight="normal" style="stroke-width:0.1px">33</tspan><tspan dy="-1.6">(%)</tspan></text>
<rect x="262" y="163.5" width="33.6" height="76.9" fill="url(#gr)" stroke="url(#gr)" stroke-width="0.8"/>
<text x="278.8" y="161.7" font-size="7.0" text-anchor="middle" font-weight="bold" style="stroke-width:0.12px">90</text>
<text x="279.1" y="249" font-size="6.6" text-anchor="middle" font-weight="bold" letter-spacing="0.35" style="stroke-width:0.12px">BKT-BFPT</text>
<rect x="304.6" y="232.3" width="33.7" height="8.1" fill="url(#gr)" stroke="url(#gr)" stroke-width="0.8"/>
<text x="321.45" y="230.5" font-size="7.0" text-anchor="middle" font-weight="bold" style="stroke-width:0.12px">10</text>
<text x="319" y="249" font-size="6.6" text-anchor="middle" font-weight="bold" letter-spacing="0.35" style="stroke-width:0.12px">BSPT</text>
<rect x="348" y="223.7" width="33.5" height="16.7" fill="url(#gr)" stroke="url(#gr)" stroke-width="0.8"/>
<text x="364.75" y="221.9" font-size="7.0" text-anchor="middle" font-weight="bold" style="stroke-width:0.12px">20</text>
<text x="364.2" y="249" font-size="6.6" text-anchor="middle" font-weight="bold" letter-spacing="0.35" style="stroke-width:0.12px">PZT</text>
<rect x="257.3" y="137.2" width="128.5" height="103.2" fill="none" stroke="#1a1a1a" stroke-width="1.1"/>
<line x1="254.9" y1="240.4" x2="257.3" y2="240.4" stroke="#1a1a1a" stroke-width="1.1"/>
<text x="253" y="242.8" font-size="8.5" text-anchor="end" font-weight="bold" >0</text>
<line x1="256" y1="223.2" x2="257.3" y2="223.2" stroke="#1a1a1a" stroke-width="1.1"/>
<line x1="254.9" y1="206" x2="257.3" y2="206" stroke="#1a1a1a" stroke-width="1.1"/>
<text x="253" y="208.4" font-size="8.5" text-anchor="end" font-weight="bold" >40</text>
<line x1="256" y1="188.8" x2="257.3" y2="188.8" stroke="#1a1a1a" stroke-width="1.1"/>
<line x1="254.9" y1="171.6" x2="257.3" y2="171.6" stroke="#1a1a1a" stroke-width="1.1"/>
<text x="253" y="174" font-size="8.5" text-anchor="end" font-weight="bold" >80</text>
<line x1="256" y1="154.4" x2="257.3" y2="154.4" stroke="#1a1a1a" stroke-width="1.1"/>
<line x1="254.9" y1="137.2" x2="257.3" y2="137.2" stroke="#1a1a1a" stroke-width="1.1"/>
<text x="253" y="139.6" font-size="8.5" text-anchor="end" font-weight="bold" >120</text>
<line x1="300.2" y1="240.4" x2="300.2" y2="242.0" stroke="#1a1a1a" stroke-width="1.1"/>
<line x1="343.2" y1="240.4" x2="343.2" y2="242.0" stroke="#1a1a1a" stroke-width="1.1"/>
<text x="260.8" y="146.4" font-size="6.6" text-anchor="start" font-weight="bold" >(d)</text>
<text transform="translate(236.3,231.6) rotate(-90)" font-size="8.6" font-weight="bold" letter-spacing="0.37"><tspan font-size="7.2" dy="-0.5" style="stroke-width:0.9px">|</tspan><tspan dy="0.5" font-style="italic">T</tspan><tspan font-size="5.2" dy="1.6" font-style="italic">d,ex-situ</tspan><tspan dy="-1.6">-</tspan><tspan font-style="italic">T</tspan><tspan font-size="5.2" dy="1.6" font-style="italic">d,in-situ</tspan><tspan font-size="7.2" dy="-2.1" style="stroke-width:0.9px">|</tspan><tspan dy="0.5"> (</tspan><tspan font-size="5.2" dy="-3.0">o</tspan><tspan dy="3.0">C)</tspan></text>
</svg></body></html>
